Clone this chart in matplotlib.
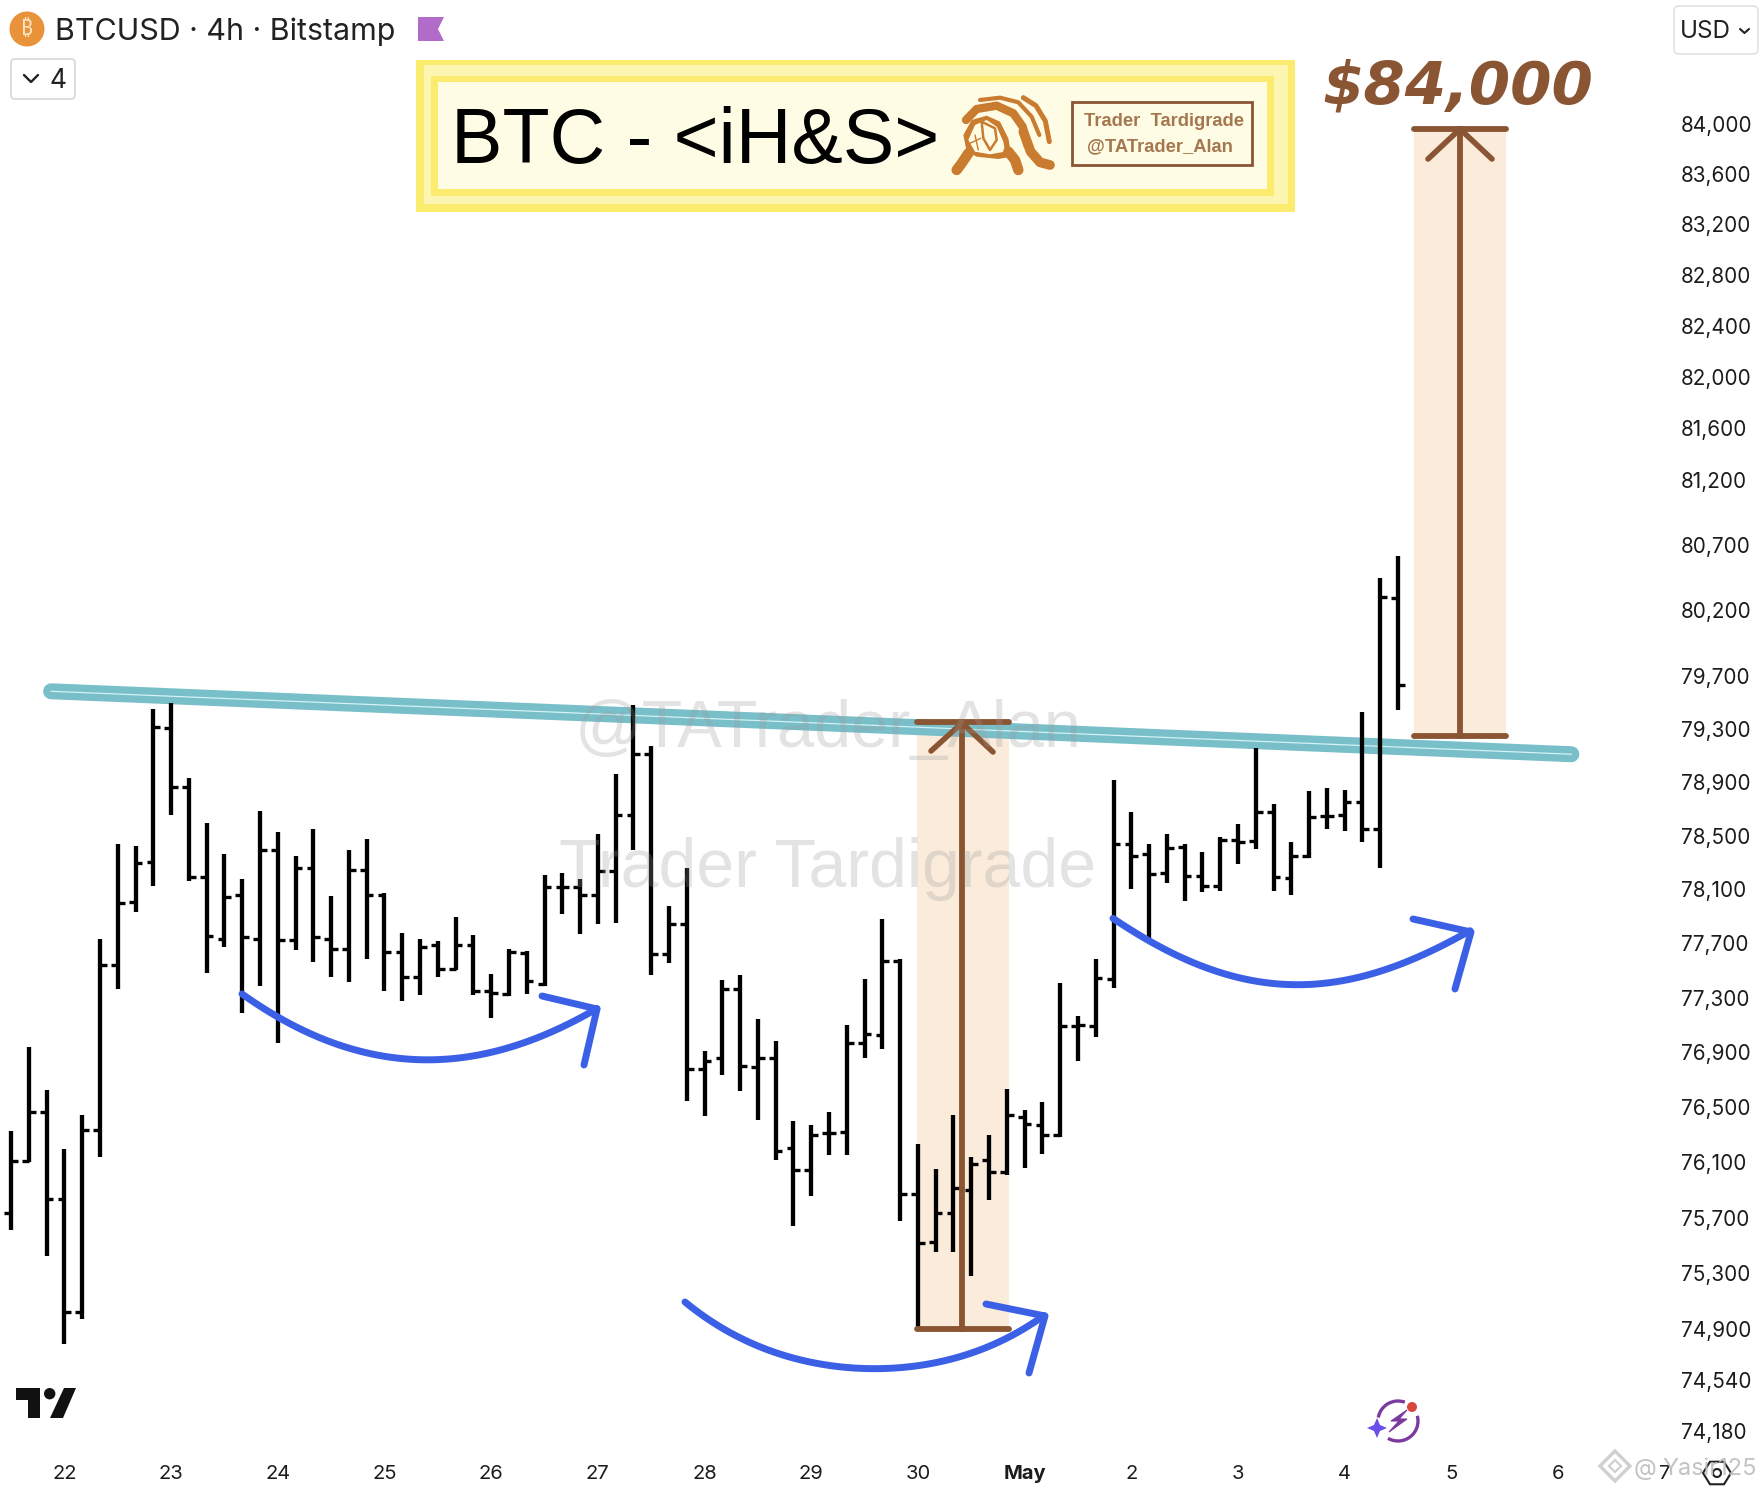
#!/usr/bin/env python

import numpy as np
import matplotlib as mpl
mpl.use('Agg')
import matplotlib.pyplot as plt
from matplotlib.patches import Circle, Arc, FancyBboxPatch, Polygon, Rectangle

# 4h OHLC bars
open_ = [75735,76110,76465,75835,75020,76335,77540,78005,78300,79310,78865,78195,77735,78060,77730,78395,77725,78255,77730,77660,78245,78060,77635,77450,77685,77510,77685,77350,77330,77625,77400,78115,78115,78055,78240,78655,79115,77620,77845,76780,76860,77360,76795,76860,76205,76040,76310,76315,76970,77025,77570,75870,75525,75735,75895,76115,76025,76430,76370,76300,77090,77090,77435,78440,78360,78220,78415,78200,78125,78470,78460,78680,78185,78345,78650,78655,78750,78550,80295]
high = [76325,76940,76625,76195,76445,77735,78440,78420,79450,79495,78935,78595,78365,78175,78685,78530,78345,78550,78050,78390,78475,78075,77780,77735,77715,77895,77765,77475,77660,77645,78210,78225,78180,78510,78965,79485,79170,77980,78260,76910,77430,77470,77140,76985,76400,76370,76460,77100,77435,77880,77585,76230,76050,76440,76135,76300,76630,76480,76535,77405,77165,77585,78920,78680,78435,78510,78435,78380,78490,78585,79155,78740,78450,78835,78860,78845,79430,80445,80615]
low = [75610,76100,75425,74795,74970,76135,77365,77930,78125,78655,78165,77480,77675,77185,77385,76970,77650,77560,77450,77415,77585,77350,77275,77320,77450,77500,77320,77150,77315,77325,77385,77920,77770,77840,77850,78395,77470,77555,76545,76435,76735,76615,76405,76115,75640,75855,76155,76150,76855,76920,75675,74890,75450,75450,75280,75825,76005,76060,76160,76280,76835,77010,77370,78100,77730,78145,78010,78080,78090,78285,78400,78085,78055,78330,78550,78535,78455,78255,79445]
close = [76110,76465,75835,75025,76335,77540,77995,78295,79315,78865,78195,77755,78045,77745,78395,77725,78255,77750,77660,78245,78060,77635,77455,77675,77510,77685,77350,77335,77635,77420,78115,78115,78055,78240,78655,79115,77620,77845,76775,76835,77360,76800,76860,76180,76040,76300,76310,76970,77035,77570,75870,75515,75735,75910,76090,76030,76440,76380,76300,77090,77100,77445,78440,78350,78215,78405,78200,78125,78470,78455,78680,78195,78350,78640,78645,78755,78550,80300,79630]

price_ticks = [84000,83600,83200,82800,82400,82000,81600,81200,80700,80200,79700,79300,78900,78500,78100,77700,77300,76900,76500,76100,75700,75300,74900,74540,74180]
day_pos = [3,9,15,21,27,33,39,45,51,57,63,69,75,81,87,93]
day_labels = ['22','23','24','25','26','27','28','29','30','May','2','3','4','5','6','7']

# neckline and the two measured moves, as bar index / price
neck_x = [2.25, 87.75]
neck_y = [79585, 79110]
move1_x = [50.95, 53.5, 56.1]
move1_y = [74900, 79355]
move2_x = [78.9, 81.5, 84.05]
move2_y = [79250, 83960]

BROWN = '#8A5533'
BLUE = '#3B60E6'
UI_FONT = ['Inter', 'DejaVu Sans']
W, H = 1764, 1492

fig = plt.figure(figsize=(W / 100, H / 100), dpi=100, facecolor='white')
ax = fig.add_axes([0, 1 - 1445 / H, 1672 / W, 1445 / H], facecolor='none')
ax.set_yscale('log')
ax.set_xlim(-0.624, 93.41)
ax.set_ylim(74080, 84993)

# shaded measured moves
for xs, ys in ((move1_x, move1_y), (move2_x, move2_y)):
    ax.add_patch(Rectangle((xs[0], ys[0]), xs[2] - xs[0], ys[1] - ys[0],
                           fc='#FBEBDB', ec='none', zorder=1))

# neckline
ax.plot(neck_x, neck_y, color='#79BFC9', lw=11.5, solid_capstyle='round', zorder=2)
ax.plot(neck_x, neck_y, color='#D4F1F5', lw=0.9, zorder=2.1)

# bars
idx = np.arange(len(open_))
ax.vlines(idx, low, high, color='black', lw=3.1, zorder=3)
ax.hlines(open_, idx - 0.38, idx, color='black', lw=2.4, zorder=3)
ax.hlines(close, idx, idx + 0.38, color='black', lw=2.4, zorder=3)

# measured move arrows
for xs, ys in ((move1_x, move1_y), (move2_x, move2_y)):
    ax.plot([xs[0], xs[2]], [ys[0], ys[0]], color=BROWN, lw=4.2, solid_capstyle='round', zorder=4)
    ax.plot([xs[0], xs[2]], [ys[1], ys[1]], color=BROWN, lw=4.2, solid_capstyle='round', zorder=4)
    ax.plot([xs[1], xs[1]], ys, color=BROWN, lw=4.2, zorder=4)

ax.yaxis.tick_right()
ax.yaxis.set_major_locator(mpl.ticker.FixedLocator(price_ticks))
ax.yaxis.set_minor_locator(mpl.ticker.NullLocator())
ax.set_yticklabels([f'{p:,}' for p in price_ticks], fontsize=14.9, color='#1c1c1c', family=UI_FONT)
ax.set_xticks(day_pos)
ax.set_xticklabels(day_labels, fontsize=14.5, color='#1c1c1c', family=UI_FONT)
ax.get_xticklabels()[day_labels.index('May')].set_fontweight('bold')
ax.tick_params(axis='both', which='both', length=0)
ax.tick_params(axis='y', pad=6.5)
ax.tick_params(axis='x', pad=14.3)
for spine in ax.spines.values():
    spine.set_visible(False)

# everything else is decoration placed in pixels
ov = fig.add_axes([0, 0, 1, 1], facecolor='none', zorder=5)
ov.set_xlim(0, W)
ov.set_ylim(H, 0)
ov.axis('off')


def line(xs, ys, color, lw, **kw):
    kw.setdefault('solid_capstyle', 'round')
    kw.setdefault('solid_joinstyle', 'round')
    ov.plot(xs, ys, color=color, lw=lw, **kw)


# arrowheads of the measured moves
line([931, 962, 993], [751, 723, 752], BROWN, 4.0)
line([1428, 1460, 1492], [159, 129, 159], BROWN, 4.0)

# hand drawn blue arcs, smoothed through the traced points
arcs = [
    ([242,280,318,356,394,433,470,507,543,577,597], [994,1018,1037,1051,1057,1059,1057,1049,1035,1019,1009],
     [542,597,584], [996,1009,1065]),
    ([685,733,778,822,878,925,972,1008,1044], [1302,1334,1354,1364,1368,1365,1354,1336,1316],
     [986,1045,1029], [1304,1316,1373]),
    ([1113,1152,1190,1232,1274,1310,1350,1384,1416,1443,1470], [918,943,962,975,983,984,980,972,957,943,932],
     [1413,1471,1455], [919,932,989]),
]
for arc_x, arc_y, hx, hy in arcs:
    fit = np.polyfit(np.array(arc_x) - arc_x[0], arc_y, 4)
    sx = np.linspace(arc_x[0], arc_x[-1], 80)
    line(sx, np.polyval(fit, sx - arc_x[0]), BLUE, 5.0)
    line(hx, hy, BLUE, 5.0)

# watermarks
ov.text(828, 730, '@TATrader_Alan', fontsize=48, family='Liberation Sans', color='#9a9a9a',
        alpha=0.27, ha='center', va='center')
ov.text(828, 869, 'Trader Tardigrade', fontsize=49, family='Liberation Sans', color='#9a9a9a',
        alpha=0.27, ha='center', va='center')

# header
ov.add_patch(Circle((27, 29), 17.5, fc='#E8923A', ec='none'))
ov.text(27, 29.5, '\u20bf', fontsize=15, family=['Noto Sans', 'Inter', 'Roboto', 'Open Sans', 'Lato'],
        fontweight='bold', color='#FBE3C4', ha='center', va='center')
ov.text(55, 32, 'BTCUSD \u00b7 4h \u00b7 Bitstamp', fontsize=21.9, family=UI_FONT, color='#222222',
        ha='left', va='center')
ov.add_patch(Polygon([(418, 17), (444, 17), (438, 29), (444, 41), (418, 41)], fc='#B06CC8', ec='none'))
ov.add_patch(FancyBboxPatch((11, 59), 64, 40, boxstyle='round,pad=0,rounding_size=4', fc='white',
                            ec='#DADADA', lw=1.3))
line([24, 31, 38], [75, 82, 75], '#222222', 1.7)
ov.text(58, 81, '4', fontsize=19, family=UI_FONT, color='#222222', ha='center', va='center')
ov.add_patch(FancyBboxPatch((1674, 6), 84, 48, boxstyle='round,pad=0,rounding_size=5', fc='white',
                            ec='#E4E4E4', lw=1.3))
ov.text(1680, 32, 'USD', fontsize=17.5, family=UI_FONT, color='#222222', ha='left', va='center')
line([1740, 1744.5, 1749], [29, 33, 29], '#222222', 1.5)

# title banner, nested frames
frames = [(416, 60, 1295, 212, '#FBEC70'), (424, 65, 1288, 204, '#FDF6B2'),
          (431, 76, 1274, 196, '#FBEC70'), (438, 82, 1267, 189, '#FFFCE6')]
for x0, y0, x1, y1, col in frames:
    ov.add_patch(Rectangle((x0, y0), x1 - x0, y1 - y0, fc=col, ec='none'))
ov.text(451, 135, 'BTC - <iH&S>', fontsize=55.5, family='Liberation Sans', color='black',
        ha='left', va='center_baseline')

# tardigrade logo, rough trace
ORANGE = '#C97C30'


def logo(pts):
    return [940 + p[0] / 3 for p in pts], [85 + p[1] / 3 for p in pts]


px, py = logo([(70,150),(95,105),(140,92),(180,110),(205,160),(215,215),(175,222),(110,215),(80,200)])
ov.add_patch(Polygon(np.c_[px, py], fc=ORANGE, ec='none'))
px, py = logo([(85,165),(105,120),(140,105),(170,125),(190,170),(195,200),(150,208),(105,200)])
ov.add_patch(Polygon(np.c_[px, py], fc='#FFFCE6', ec='none'))
for pts, w in (
    ([(120,45),(180,38),(235,52),(275,95),(298,150)], 3.0),
    ([(250,38),(288,62),(316,108),(328,170)], 3.6),
    ([(78,105),(110,72),(170,62),(220,85),(248,125),(262,180)], 6.0),
    ([(125,110),(165,130),(170,165),(150,195),(130,160),(125,110)], 1.8),
    ([(250,140),(272,200),(300,232),(330,240)], 7.0),
    ([(205,200),(225,225),(235,255)], 7.5),
    ([(85,205),(65,235),(50,255)], 7.5),
):
    xs, ys = logo(pts)
    line(xs, ys, ORANGE, w)
xs, ys = logo([(90,175),(122,160)])
line(xs, ys, ORANGE, 1.0)
xs, ys = logo([(105,150),(115,195)])
line(xs, ys, ORANGE, 1.0)

ov.add_patch(Rectangle((1072, 102), 180, 63, fc='#FFFCE6', ec=BROWN, lw=2.0))
ov.text(1164, 121, 'Trader  Tardigrade', fontsize=13.2, family='Liberation Sans', fontweight='bold',
        color='#A4774F', ha='center', va='center')
ov.text(1087, 147, '@TATrader_Alan', fontsize=13.2, family='Liberation Sans', fontweight='bold',
        color='#A4774F', ha='left', va='center')

# target label
ov.text(1322, 87, '$84,000', fontsize=42.8, family='DejaVu Sans', fontweight='bold', style='italic',
        color=BROWN, ha='left', va='center')

# TradingView logo
ov.add_patch(Polygon([(16, 1388), (40, 1388), (40, 1418), (28, 1418), (28, 1400), (16, 1400)], fc='#111111', ec='none'))
ov.add_patch(Circle((49.7, 1393.7), 5.7, fc='#111111', ec='none'))
ov.add_patch(Polygon([(64, 1388), (76, 1388), (63, 1418), (50, 1418)], fc='#111111', ec='none'))

# bolt badge
ov.add_patch(Arc((1398, 1421), 40, 40, theta1=-170, theta2=-70, ec='#7A3A9E', lw=2.4))
ov.add_patch(Arc((1398, 1421), 40, 40, theta1=-15, theta2=120, ec='#7A3A9E', lw=2.4))
ov.add_patch(Polygon([(1407, 1410), (1391, 1421), (1399, 1421), (1389, 1432), (1407, 1419), (1399, 1419)],
                     fc='#7A3A9E', ec='#7A3A9E', lw=0.8))
ov.add_patch(Polygon([(1377, 1418), (1380, 1425), (1387, 1428), (1380, 1431), (1377, 1438),
                      (1374, 1431), (1367, 1428), (1374, 1425)], fc='#6A4FE8', ec='none'))
ov.add_patch(Circle((1412, 1407), 5, fc='#D9483F', ec='none'))

# settings hexagon and repost watermark
t = np.deg2rad(np.arange(0, 360, 60))
ov.add_patch(Polygon(np.c_[1717 + 14 * np.cos(t), 1473 + 13 * np.sin(t)], fc='none', ec='#222222', lw=1.5))
ov.add_patch(Circle((1717, 1473), 4, fc='none', ec='#222222', lw=1.5))
ov.add_patch(Polygon([(1615, 1451), (1630, 1466), (1615, 1481), (1600, 1466)], fc='none', ec='#D0D0D0', lw=2.4))
ov.add_patch(Polygon([(1615, 1460), (1621, 1466), (1615, 1472), (1609, 1466)], fc='none', ec='#D0D0D0', lw=1.6))
ov.text(1634, 1469, '@', fontsize=17, family=UI_FONT, color='#bdbdbd', alpha=0.9, ha='left', va='center')
ov.text(1662, 1469, 'Yasir125', fontsize=17, family=UI_FONT, color='#bdbdbd', alpha=0.9, ha='left', va='center')

fig.savefig('out.png', dpi=100)
